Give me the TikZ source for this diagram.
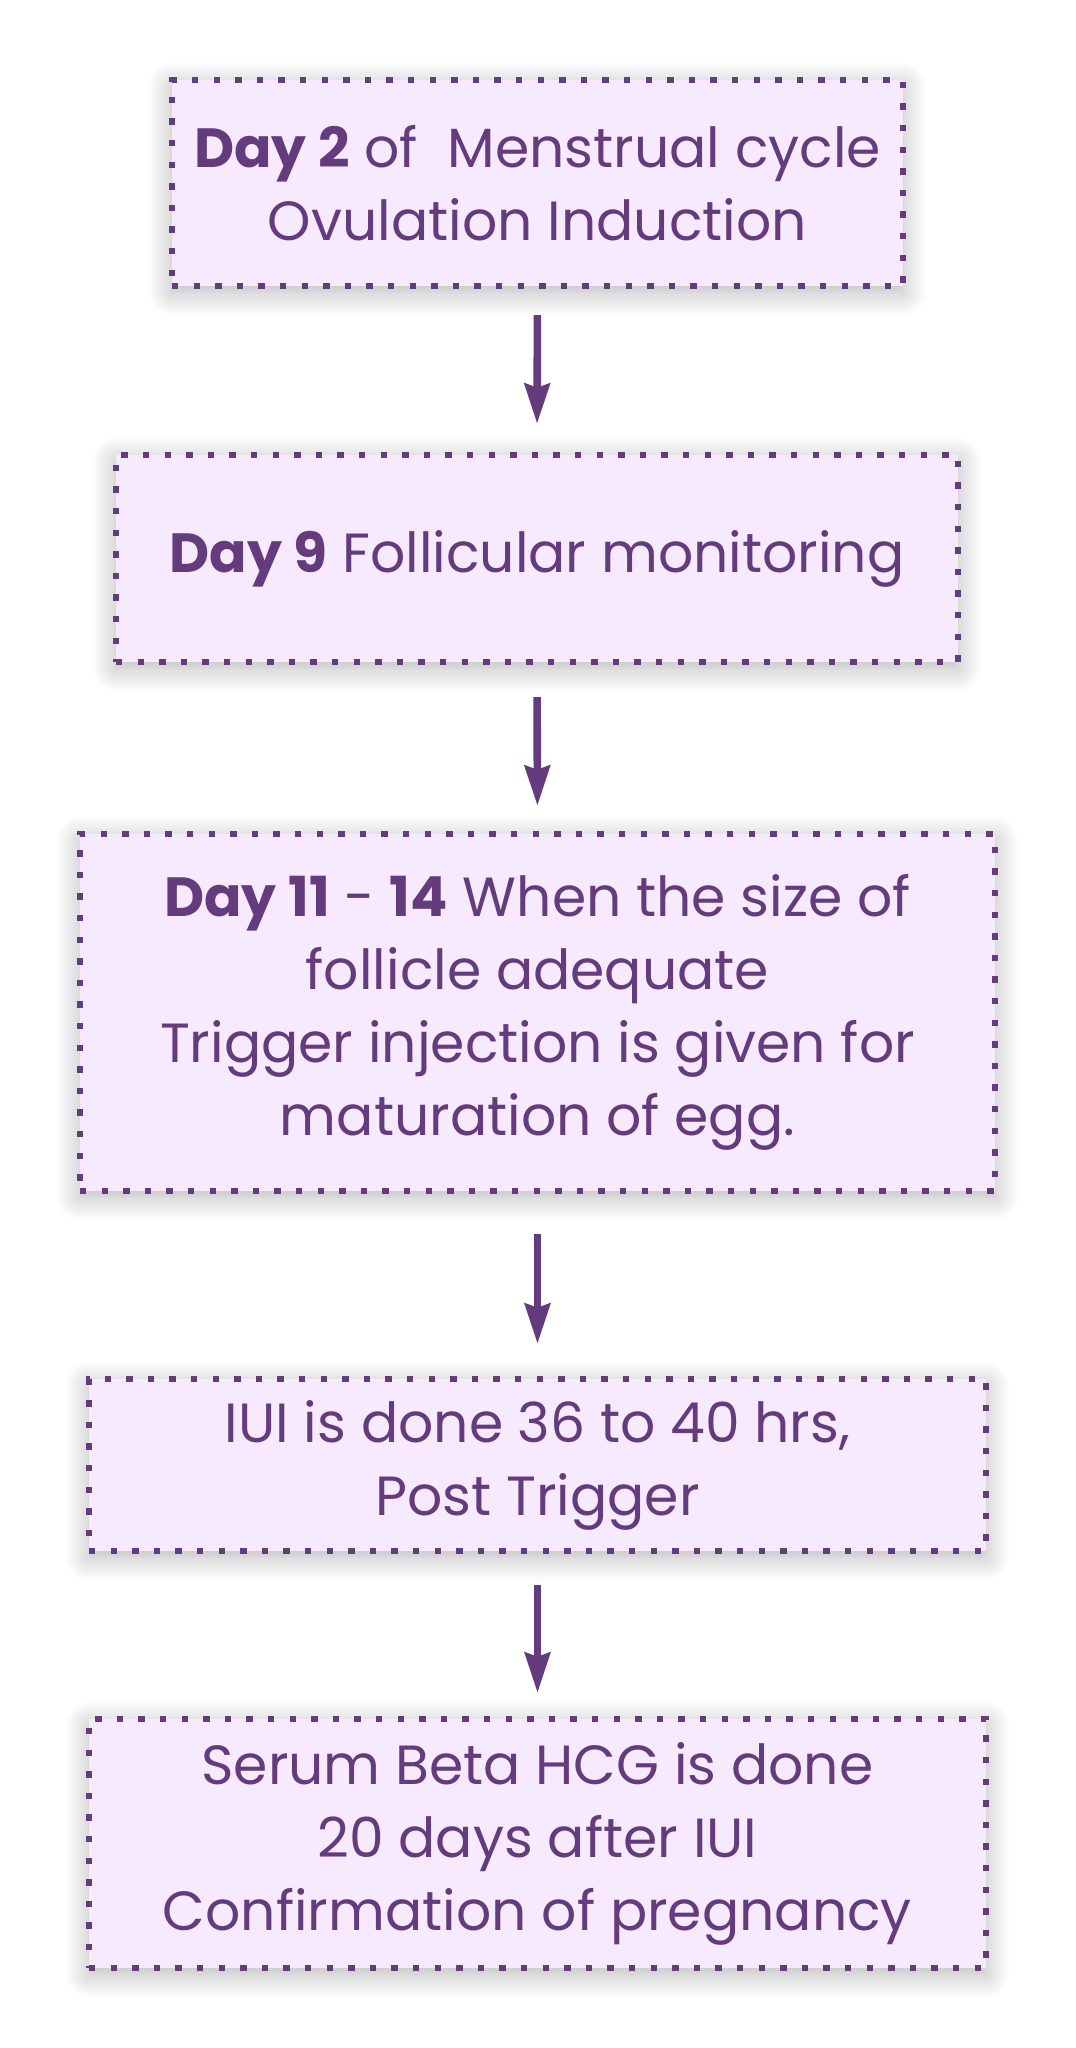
\documentclass[tikz,border=0pt]{standalone}
\usepackage{fontspec}
\setmainfont{Poppins}
\usetikzlibrary{arrows.meta,shadows.blur}
\definecolor{plum}{HTML}{643B7D}
\definecolor{lilac}{HTML}{F7EAFE}

\begin{document}
\begin{tikzpicture}[x=0.5pt,y=-0.5pt,
	stepbox/.style={draw=plum, fill=lilac, line width=3.2pt, dash pattern=on 3.2pt off 7.6pt,
		text=plum, align=center, inner sep=0pt, font=\fontsize{27.6}{36.5}\selectfont,
		blur shadow={shadow xshift=0pt, shadow yshift=-3pt, shadow blur radius=12pt,
			shadow blur steps=14, shadow opacity=30}},
	flowarrow/.style={draw=plum, line width=3.8pt, -{Stealth[length=20pt,width=12.5pt,inset=2pt]}}]
	\useasboundingbox (0,0) rectangle (1075,2048);

	% Text Node
	\node [stepbox, minimum width=365.5pt, minimum height=103pt] (day2) at (537.5,183)
		{\textbf{Day 2} of\ \ Menstrual cycle\\Ovulation Induction};
	% Text Node
	\node [stepbox, minimum width=421pt, minimum height=103.5pt] (day9) at (537,558.5)
		{\textbf{Day 9} Follicular monitoring};
	% Text Node
	\node [stepbox, minimum width=457.5pt, minimum height=178.5pt] (trigger) at (537.5,1012.5)
		{\textbf{Day 11} - \textbf{14} When the size of\\follicle adequate\\Trigger injection is given for\\maturation of egg.};
	% Text Node
	\node [stepbox, minimum width=448.5pt, minimum height=86pt] (iui) at (537.5,1465)
		{IUI is done 36 to 40 hrs,\\Post Trigger};
	% Text Node
	\node [stepbox, minimum width=448.5pt, minimum height=124.5pt] (hcg) at (537.5,1843.5)
		{Serum Beta HCG is done\\20 days after IUI\\Confirmation of pregnancy};

	% Connection
	\foreach \from/\to/\s/\e in {day2/day9/13/14, day9/trigger/16/12.5, trigger/iui/20/16, iui/hcg/15.5/11.5}
		\draw [flowarrow, shorten <=\s pt, shorten >=\e pt] (\from.south) -- (\to.north);

\end{tikzpicture}
\end{document}
